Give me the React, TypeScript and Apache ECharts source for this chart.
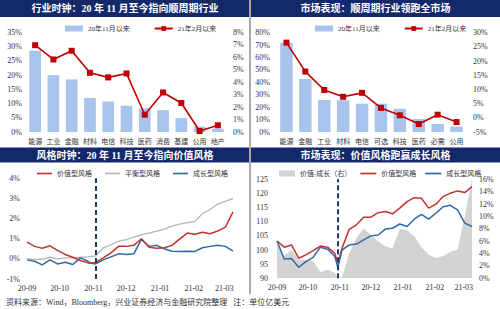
import React, { useEffect, useRef } from 'react';
import * as echarts from 'echarts';

// ---- Panel 1: 行业时钟 ----
const catsA = ['能源', '工业', '金融', '材料', '电信', '科技', '医药', '消费', '基建', '公用', '地产'];
const nov20A = [28.6, 20.0, 18.5, 12.0, 10.7, 9.2, 8.3, 7.7, 4.9, 1.9, 1.2];
const feb21A = [6.98, 5.83, 6.53, 4.76, 4.39, 4.71, 1.39, 3.18, 2.33, 0.08, 0.54];

// ---- Panel 2: 市场表现（行业） ----
const catsB = ['能源', '金融', '工业', '材料', '电信', '可选', '科技', '医药', '必需', '公用'];
const nov20B = [72, 42.7, 25.8, 25.6, 22.8, 22.8, 18.8, 10.5, 6.5, 4.3];
const feb21B = [26.5, 16.3, 9.8, 7.4, 8.8, 3.5, 0.9, -2.2, 1.1, -1.5];

// ---- Panels 3/4: weekly dates ----
const weeks = [
  '2020-09-01', '2020-09-08', '2020-09-15', '2020-09-22', '2020-09-29', '2020-10-06', '2020-10-13',
  '2020-10-20', '2020-10-27', '2020-10-30', '2020-11-03', '2020-11-10', '2020-11-17', '2020-11-24',
  '2020-12-01', '2020-12-08', '2020-12-15', '2020-12-22', '2020-12-29', '2021-01-05', '2021-01-12',
  '2021-01-19', '2021-01-26', '2021-02-02', '2021-02-09', '2021-02-16', '2021-02-23', '2021-03-02',
  '2021-03-09',
];
const markDateLeft = '2020-11-03';
const markDateRight = '2020-10-30';

// 风格时钟 (%)
const valueStyle = [0.83, 0.62, 0.53, 0.65, 0.42, 0.22, 0.08, -0.08, -0.2, -0.22, -0.18, 0.05, 0.3, 0.62,
  0.62, 0.67, 1.0, 0.58, 0.53, 0.55, 0.67, 0.98, 1.28, 1.22, 1.32, 1.25, 1.38, 1.58, 2.33];
const balancedStyle = [0.0, -0.03, -0.02, 0.08, 0.0, 0.05, 0.05, 0.08, 0.1, 0.12, 0.15, 0.55, 0.7, 0.88,
  0.95, 1.08, 1.2, 1.28, 1.38, 1.48, 1.62, 1.72, 1.8, 1.85, 2.25, 2.45, 2.72, 2.85, 3.0];
const growthStyle = [-0.05, -0.12, -0.3, -0.05, -0.25, -0.17, -0.28, 0.05, -0.12, -0.22, -0.25, -0.05, 0.1,
  0.25, 0.22, 0.25, 0.97, 0.62, 0.67, 0.5, 0.38, 0.37, 0.38, 0.37, 0.55, 0.62, 0.67, 0.62, 0.38];

// 市场表现（风格）
const valueIndex = [103.2, 101.0, 101.8, 97.1, 98.3, 99.8, 101.4, 101.0, 98.8, 95.3, 100.6, 107.3, 108.9,
  111.6, 111.6, 113.2, 113.6, 112.8, 114.8, 117.1, 118.5, 118.3, 114.8, 116.2, 118.9, 120.1, 120.9, 120.3, 122.4];
const growthIndex = [103.2, 96.8, 97.0, 93.9, 95.9, 97.4, 101.0, 100.3, 97.7, 93.9, 100.0, 101.8, 102.1,
  103.6, 105.0, 105.3, 107.4, 107.7, 109.2, 108.3, 110.9, 112.6, 110.9, 113.0, 115.3, 115.8, 114.2, 109.5, 108.3];
const valueMinusGrowth = [5.5, 3.6, 4.6, 3.0, 3.0, 2.8, 1.0, 1.4, 0.9, 0.0, 0.2, 4.0, 6.5, 8.1, 7.0, 6.0,
  5.2, 4.8, 8.0, 7.8, 6.8, 5.0, 3.8, 3.3, 3.6, 4.3, 4.6, 10.0, 16.0];

const NAVY = '#14296a';
const BAR = '#a9c4ec';
const RED = '#c00000';
const RED2 = '#c0352b';
const BLUE = '#2f6aa5';
const GRAY = '#b5b5b5';
const AREA = '#d3d3d3';
const TXT = '#333333';
const SERIF = "'Liberation Serif', 'Times New Roman', 'Noto Sans CJK SC', serif";
const CJK = "'Noto Sans CJK SC', sans-serif";
const LINE_ICON = 'path://M0,0 L24,0 L24,2.6 L0,2.6 Z';

const pct = (v: number) => `${v}%`;
const monthFmt = (v: number) => {
  const d = new Date(v);
  return `${String(d.getFullYear()).slice(2)}-${String(d.getMonth() + 1).padStart(2, '0')}`;
};
const pairs = (arr: number[]) => weeks.map((d, i) => [d, arr[i]]);

export default function App() {
  const ref = useRef<HTMLDivElement>(null);
  useEffect(() => {
    if (!ref.current) return;
    const chart = echarts.init(ref.current, undefined, { renderer: 'svg' });

    const yLabel = (fmt: any, margin: number) => ({
      formatter: fmt,
      fontSize: 8,
      color: TXT,
      fontFamily: SERIF,
      margin,
    });
    const hiddenAxis = {
      axisLine: { show: false },
      axisTick: { show: false },
      splitLine: { show: false },
    };
    const timeX = (gridIndex: number) => ({
      type: 'time',
      gridIndex,
      min: weeks[0],
      max: weeks[weeks.length - 1],
      splitNumber: 7,
      minInterval: 28 * 86400000,
      maxInterval: 31 * 86400000,
      axisLine: { show: false },
      axisTick: { show: false },
      splitLine: { show: false },
      axisLabel: {
        formatter: monthFmt,
        fontSize: 8,
        color: TXT,
        fontFamily: SERIF,
        margin: 5,
        showMinLabel: true,
        hideOverlap: false,
      },
    });
    const legendText = { fontSize: 7, color: TXT, fontFamily: SERIF };
    const markLine = (date: string) => ({
      silent: true, symbol: 'none', label: { show: false },
      lineStyle: { color: '#1f3864', width: 2, type: [5, 3] },
      data: [{ xAxis: date }],
    });

    const option: any = {
      animation: false,
      backgroundColor: '#ffffff',
      grid: [
        { left: 26, top: 32.5, width: 201, height: 99.5 },
        { left: 277, top: 32.7, width: 189, height: 99.3 },
        { left: 27, top: 178.3, width: 206, height: 100.7 },
        { left: 277, top: 179.3, width: 195, height: 99 },
      ],
      legend: [
        {
          left: 60, top: 20, itemWidth: 18, itemHeight: 6, itemGap: 24, textStyle: legendText,
          data: [{ name: '20年11月以来', icon: 'rect' }, { name: '21年2月以来' }],
        },
        {
          left: 310, top: 20, itemWidth: 18, itemHeight: 6, itemGap: 24, textStyle: legendText,
          data: [{ name: '20年11月以来', icon: 'rect' }, { name: '21年2月以来' }],
        },
        {
          left: 32, top: 165, itemWidth: 15, itemHeight: 6, itemGap: 13, textStyle: legendText,
          data: [
            { name: '价值型风格', icon: LINE_ICON },
            { name: '平衡型风格', icon: LINE_ICON },
            { name: '成长型风格', icon: LINE_ICON },
          ],
        },
        {
          left: 274, top: 165, itemWidth: 16, itemHeight: 6, itemGap: 9, textStyle: legendText,
          data: [
            { name: '价值-成长（右）', icon: 'rect', itemStyle: { color: AREA } },
            { name: '价值型风格', icon: LINE_ICON },
            { name: '成长型风格', icon: LINE_ICON },
          ],
        },
      ],
      xAxis: [
        {
          type: 'category', gridIndex: 0, data: catsA, ...hiddenAxis,
          axisLabel: { interval: 0, fontSize: 7, color: TXT, fontFamily: CJK, margin: 5 },
        },
        {
          type: 'category', gridIndex: 1, data: catsB, ...hiddenAxis,
          axisLabel: { interval: 0, fontSize: 7, color: TXT, fontFamily: CJK, margin: 5 },
        },
        timeX(2),
        timeX(3),
      ],
      yAxis: [
        { type: 'value', gridIndex: 0, min: 0, max: 35, interval: 5, ...hiddenAxis, axisLabel: yLabel(pct, 4) },
        { type: 'value', gridIndex: 0, min: 0, max: 8, interval: 1, position: 'right', ...hiddenAxis, axisLabel: yLabel(pct, 6) },
        { type: 'value', gridIndex: 1, min: 0, max: 80, interval: 10, ...hiddenAxis, axisLabel: yLabel(pct, 7) },
        { type: 'value', gridIndex: 1, min: -5, max: 30, interval: 5, position: 'right', ...hiddenAxis, axisLabel: yLabel(pct, 7) },
        { type: 'value', gridIndex: 2, min: -1, max: 4, interval: 1, ...hiddenAxis, axisLabel: yLabel(pct, 7) },
        { type: 'value', gridIndex: 3, min: 90, max: 125, interval: 5, ...hiddenAxis, axisLabel: yLabel('{value}', 9) },
        { type: 'value', gridIndex: 3, min: 0, max: 16, interval: 2, position: 'right', ...hiddenAxis, axisLabel: yLabel(pct, 7) },
      ],
      series: [
        {
          name: '20年11月以来', type: 'bar', xAxisIndex: 0, yAxisIndex: 0, data: nov20A,
          barWidth: '64%', itemStyle: { color: BAR },
        },
        {
          name: '21年2月以来', type: 'line', xAxisIndex: 0, yAxisIndex: 1, data: feb21A,
          symbol: 'rect', symbolSize: 6, lineStyle: { color: RED, width: 1.6 }, itemStyle: { color: RED },
        },
        {
          name: '20年11月以来', type: 'bar', xAxisIndex: 1, yAxisIndex: 2, data: nov20B,
          barWidth: '66%', itemStyle: { color: BAR },
        },
        {
          name: '21年2月以来', type: 'line', xAxisIndex: 1, yAxisIndex: 3, data: feb21B,
          symbol: 'rect', symbolSize: 6, lineStyle: { color: RED, width: 1.6 }, itemStyle: { color: RED },
        },
        {
          name: '平衡型风格', type: 'line', xAxisIndex: 2, yAxisIndex: 4, data: pairs(balancedStyle),
          symbol: 'none', lineStyle: { color: GRAY, width: 1.3 }, itemStyle: { color: GRAY },
        },
        {
          name: '成长型风格', type: 'line', xAxisIndex: 2, yAxisIndex: 4, data: pairs(growthStyle),
          symbol: 'none', lineStyle: { color: BLUE, width: 1.5 }, itemStyle: { color: BLUE },
        },
        {
          name: '价值型风格', type: 'line', xAxisIndex: 2, yAxisIndex: 4, data: pairs(valueStyle),
          symbol: 'none', lineStyle: { color: RED2, width: 1.5 }, itemStyle: { color: RED2 },
          markLine: markLine(markDateLeft),
        },
        {
          name: '价值-成长（右）', type: 'line', xAxisIndex: 3, yAxisIndex: 6, data: pairs(valueMinusGrowth),
          symbol: 'none', lineStyle: { width: 0, color: AREA }, areaStyle: { color: AREA, opacity: 1 },
          itemStyle: { color: AREA }, z: 1,
        },
        {
          name: '价值型风格', type: 'line', xAxisIndex: 3, yAxisIndex: 5, data: pairs(valueIndex),
          symbol: 'none', lineStyle: { color: RED2, width: 1.5 }, itemStyle: { color: RED2 }, z: 3,
        },
        {
          name: '成长型风格', type: 'line', xAxisIndex: 3, yAxisIndex: 5, data: pairs(growthIndex),
          symbol: 'none', lineStyle: { color: BLUE, width: 1.5 }, itemStyle: { color: BLUE }, z: 3,
          markLine: markLine(markDateRight),
        },
      ],
      graphic: [
        { type: 'rect', shape: { x: 0, y: 0, width: 249, height: 17 }, style: { fill: NAVY } },
        { type: 'rect', shape: { x: 251, y: 0, width: 249, height: 17 }, style: { fill: NAVY } },
        { type: 'rect', shape: { x: 0, y: 147.5, width: 249, height: 15 }, style: { fill: NAVY } },
        { type: 'rect', shape: { x: 251, y: 147.5, width: 249, height: 15 }, style: { fill: NAVY } },
        { type: 'line', shape: { x1: 250, y1: 0, x2: 250, y2: 294 }, style: { stroke: '#555', lineWidth: 1 } },
        {
          type: 'text', x: 125, y: 8.5,
          style: { text: '行业时钟：20 年 11 月至今指向顺周期行业', fill: '#fff', font: `bold 10px ${SERIF}`, align: 'center', verticalAlign: 'middle' },
        },
        {
          type: 'text', x: 375.5, y: 8.5,
          style: { text: '市场表现：顺周期行业领跑全市场', fill: '#fff', font: `bold 10px ${SERIF}`, align: 'center', verticalAlign: 'middle' },
        },
        {
          type: 'text', x: 125, y: 155,
          style: { text: '风格时钟：20 年 11 月至今指向价值风格', fill: '#fff', font: `bold 10px ${SERIF}`, align: 'center', verticalAlign: 'middle' },
        },
        {
          type: 'text', x: 375.5, y: 155,
          style: { text: '市场表现：价值风格跑赢成长风格', fill: '#fff', font: `bold 10px ${SERIF}`, align: 'center', verticalAlign: 'middle' },
        },
        {
          type: 'text', x: 6, y: 302,
          style: { text: '资料来源：Wind，Bloomberg，兴业证券经济与金融研究院整理   注：单位亿美元', fill: TXT, font: `8px ${SERIF}`, align: 'left', verticalAlign: 'middle' },
        },
      ],
    };
    chart.setOption(option);
    return () => chart.dispose();
  }, []);

  return (
    <div
      ref={ref}
      style={{ position: 'absolute', left: 0, top: 0, width: 500, height: 309, background: '#fff' }}
    />
  );
}
